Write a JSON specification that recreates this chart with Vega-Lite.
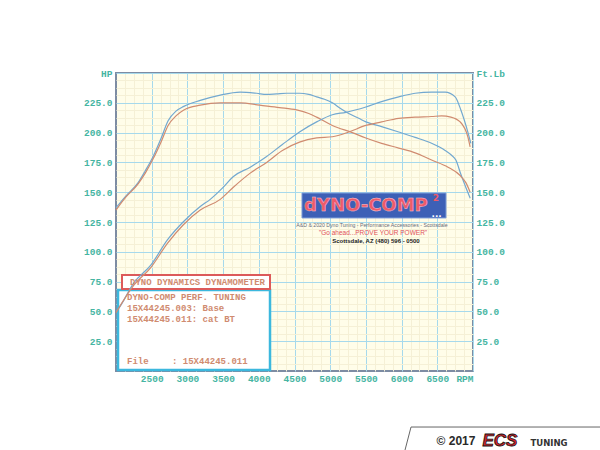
{
  "$schema": "https://vega.github.io/schema/vega-lite/v6.json",
  "width": 357,
  "height": 298,
  "autosize": {"type": "none"},
  "padding": {"left": 116, "top": 73, "right": 127, "bottom": 79},
  "background": "white",
  "config": {
    "view": {"fill": "#fffde9", "stroke": "#7d8ca3", "strokeWidth": 2},
    "axis": {"domain": false, "ticks": false, "title": null, "labelFont": "Liberation Mono", "labelFontSize": 9.5, "labelFontWeight": "bold", "labelColor": "#45b5a2"}
  },
  "datasets": {
    "curves": [
      {"series": "Torque cat BT", "rpm": 2000, "val": 137}, {"series": "Torque cat BT", "rpm": 2140, "val": 147}, {"series": "Torque cat BT", "rpm": 2310, "val": 158}, {"series": "Torque cat BT", "rpm": 2410, "val": 168}, {"series": "Torque cat BT", "rpm": 2520, "val": 180}, {"series": "Torque cat BT", "rpm": 2630, "val": 195}, {"series": "Torque cat BT", "rpm": 2730, "val": 210}, {"series": "Torque cat BT", "rpm": 2840, "val": 218}, {"series": "Torque cat BT", "rpm": 2950, "val": 222}, {"series": "Torque cat BT", "rpm": 3180, "val": 227}, {"series": "Torque cat BT", "rpm": 3460, "val": 231.5}, {"series": "Torque cat BT", "rpm": 3740, "val": 234}, {"series": "Torque cat BT", "rpm": 3970, "val": 233}, {"series": "Torque cat BT", "rpm": 4110, "val": 232}, {"series": "Torque cat BT", "rpm": 4250, "val": 232.5}, {"series": "Torque cat BT", "rpm": 4390, "val": 233}, {"series": "Torque cat BT", "rpm": 4570, "val": 233}, {"series": "Torque cat BT", "rpm": 4700, "val": 232}, {"series": "Torque cat BT", "rpm": 4810, "val": 230}, {"series": "Torque cat BT", "rpm": 4920, "val": 228}, {"series": "Torque cat BT", "rpm": 5030, "val": 225}, {"series": "Torque cat BT", "rpm": 5150, "val": 220}, {"series": "Torque cat BT", "rpm": 5260, "val": 216}, {"series": "Torque cat BT", "rpm": 5400, "val": 212}, {"series": "Torque cat BT", "rpm": 5500, "val": 209}, {"series": "Torque cat BT", "rpm": 5720, "val": 205}, {"series": "Torque cat BT", "rpm": 5960, "val": 200.5}, {"series": "Torque cat BT", "rpm": 6190, "val": 196}, {"series": "Torque cat BT", "rpm": 6420, "val": 191}, {"series": "Torque cat BT", "rpm": 6610, "val": 185}, {"series": "Torque cat BT", "rpm": 6700, "val": 181}, {"series": "Torque cat BT", "rpm": 6760, "val": 177}, {"series": "Torque cat BT", "rpm": 6830, "val": 165}, {"series": "Torque cat BT", "rpm": 6900, "val": 154}, {"series": "Torque cat BT", "rpm": 6960, "val": 145},
      {"series": "Torque Base", "rpm": 2000, "val": 135}, {"series": "Torque Base", "rpm": 2140, "val": 146}, {"series": "Torque Base", "rpm": 2310, "val": 157}, {"series": "Torque Base", "rpm": 2410, "val": 166}, {"series": "Torque Base", "rpm": 2520, "val": 178}, {"series": "Torque Base", "rpm": 2630, "val": 192}, {"series": "Torque Base", "rpm": 2730, "val": 206}, {"series": "Torque Base", "rpm": 2840, "val": 214}, {"series": "Torque Base", "rpm": 2950, "val": 219}, {"series": "Torque Base", "rpm": 3180, "val": 223}, {"series": "Torque Base", "rpm": 3460, "val": 225}, {"series": "Torque Base", "rpm": 3740, "val": 225}, {"series": "Torque Base", "rpm": 4010, "val": 223}, {"series": "Torque Base", "rpm": 4290, "val": 221}, {"series": "Torque Base", "rpm": 4530, "val": 219}, {"series": "Torque Base", "rpm": 4700, "val": 216}, {"series": "Torque Base", "rpm": 4810, "val": 213}, {"series": "Torque Base", "rpm": 5030, "val": 206}, {"series": "Torque Base", "rpm": 5310, "val": 200}, {"series": "Torque Base", "rpm": 5500, "val": 195.5}, {"series": "Torque Base", "rpm": 5720, "val": 191}, {"series": "Torque Base", "rpm": 5960, "val": 187}, {"series": "Torque Base", "rpm": 6190, "val": 183}, {"series": "Torque Base", "rpm": 6420, "val": 177}, {"series": "Torque Base", "rpm": 6650, "val": 171}, {"series": "Torque Base", "rpm": 6820, "val": 164}, {"series": "Torque Base", "rpm": 6900, "val": 158}, {"series": "Torque Base", "rpm": 6960, "val": 150},
      {"series": "HP cat BT", "rpm": 2000, "val": 50}, {"series": "HP cat BT", "rpm": 2030, "val": 52}, {"series": "HP cat BT", "rpm": 2250, "val": 74}, {"series": "HP cat BT", "rpm": 2490, "val": 89}, {"series": "HP cat BT", "rpm": 2720, "val": 110}, {"series": "HP cat BT", "rpm": 2940, "val": 125}, {"series": "HP cat BT", "rpm": 3180, "val": 138}, {"series": "HP cat BT", "rpm": 3320, "val": 144}, {"series": "HP cat BT", "rpm": 3500, "val": 154}, {"series": "HP cat BT", "rpm": 3640, "val": 163}, {"series": "HP cat BT", "rpm": 3880, "val": 171}, {"series": "HP cat BT", "rpm": 4110, "val": 180}, {"series": "HP cat BT", "rpm": 4330, "val": 190}, {"series": "HP cat BT", "rpm": 4570, "val": 200.5}, {"series": "HP cat BT", "rpm": 4810, "val": 209}, {"series": "HP cat BT", "rpm": 5030, "val": 215}, {"series": "HP cat BT", "rpm": 5220, "val": 217}, {"series": "HP cat BT", "rpm": 5500, "val": 221.5}, {"series": "HP cat BT", "rpm": 5720, "val": 226}, {"series": "HP cat BT", "rpm": 5960, "val": 230}, {"series": "HP cat BT", "rpm": 6190, "val": 233}, {"series": "HP cat BT", "rpm": 6420, "val": 234}, {"series": "HP cat BT", "rpm": 6610, "val": 234}, {"series": "HP cat BT", "rpm": 6750, "val": 230}, {"series": "HP cat BT", "rpm": 6830, "val": 219}, {"series": "HP cat BT", "rpm": 6930, "val": 200}, {"series": "HP cat BT", "rpm": 6970, "val": 191},
      {"series": "HP Base", "rpm": 2000, "val": 49}, {"series": "HP Base", "rpm": 2250, "val": 72}, {"series": "HP Base", "rpm": 2490, "val": 87}, {"series": "HP Base", "rpm": 2720, "val": 107}, {"series": "HP Base", "rpm": 2940, "val": 122.5}, {"series": "HP Base", "rpm": 3180, "val": 135}, {"series": "HP Base", "rpm": 3460, "val": 144}, {"series": "HP Base", "rpm": 3640, "val": 154}, {"series": "HP Base", "rpm": 3880, "val": 166}, {"series": "HP Base", "rpm": 4110, "val": 175}, {"series": "HP Base", "rpm": 4330, "val": 185}, {"series": "HP Base", "rpm": 4570, "val": 192}, {"series": "HP Base", "rpm": 4810, "val": 195.5}, {"series": "HP Base", "rpm": 5030, "val": 196.5}, {"series": "HP Base", "rpm": 5260, "val": 200.5}, {"series": "HP Base", "rpm": 5500, "val": 206}, {"series": "HP Base", "rpm": 5720, "val": 209}, {"series": "HP Base", "rpm": 5960, "val": 212}, {"series": "HP Base", "rpm": 6190, "val": 213}, {"series": "HP Base", "rpm": 6420, "val": 213.5}, {"series": "HP Base", "rpm": 6560, "val": 214}, {"series": "HP Base", "rpm": 6690, "val": 213}, {"series": "HP Base", "rpm": 6820, "val": 209}, {"series": "HP Base", "rpm": 6930, "val": 196}, {"series": "HP Base", "rpm": 6960, "val": 188}
    ],
    "boxes": [
      {"kind": "info", "rpm1": 2028, "rpm2": 4157, "v1": 0.8, "v2": 68},
      {"kind": "title", "rpm1": 2084, "rpm2": 4157, "v1": 68.8, "v2": 80.5},
      {"kind": "logo", "rpm1": 4605, "rpm2": 6622, "v1": 128.4, "v2": 149.3}
    ],
    "monotext": [
      {"kind": "red", "text": "DYNO DYNAMICS DYNAMOMETER", "rpm": 2196, "val": 74.7},
      {"kind": "red", "text": "DYNO-COMP PERF. TUNING", "rpm": 2154, "val": 62.1},
      {"kind": "red", "text": "15X44245.003: Base", "rpm": 2154, "val": 52.9},
      {"kind": "navy", "text": "15X44245.011: cat BT", "rpm": 2154, "val": 43.6},
      {"kind": "red", "text": "File", "rpm": 2154, "val": 8.4},
      {"kind": "navy", "text": ": 15X44245.011", "rpm": 2784, "val": 8.4}
    ],
    "logotext": [
      {"kind": "logo", "text": "dYNO-COMP", "rpm": 5500, "val": 138.5},
      {"kind": "sup", "text": "2", "rpm": 6480, "val": 145},
      {"kind": "dots", "text": "...", "rpm": 6490, "val": 132},
      {"kind": "small", "text": "A&D & 2020 Dyno Tuning - Performance Accessories - Scottsdale", "rpm": 5585, "val": 122.5},
      {"kind": "slogan", "text": "\"Go ahead...PROVE YOUR POWER\"", "rpm": 5600, "val": 115.8},
      {"kind": "addr", "text": "Scottsdale, AZ (480) 596 - 0500", "rpm": 5640, "val": 109},
      {"kind": "copy", "text": "© 2017", "rpm": 6762, "val": -58.7},
      {"kind": "ecs", "text": "ECS", "rpm": 7378, "val": -58.7},
      {"kind": "tuning", "text": "TUNING", "rpm": 8064, "val": -60}
    ],
    "frame": [
      {"rpm1": 6048, "v1": -66.3, "rpm2": 6132, "v2": -47},
      {"rpm1": 6132, "v1": -47, "rpm2": 13000, "v2": -47}
    ]
  },
  "resolve": {"axis": {"x": "independent", "y": "independent"}},
  "layer": [
    {
      "data": {"name": "boxes"},
      "transform": [{"filter": "datum.kind == 'info'"}],
      "mark": {"type": "rect", "fill": "white", "stroke": "#3cb8de", "strokeWidth": 2.5},
      "encoding": {
        "x": {"field": "rpm1", "type": "quantitative", "scale": {"domain": [2000, 7000], "nice": false, "zero": false},
              "axis": {"orient": "bottom", "grid": true, "gridColor": "#f5f0d6", "gridWidth": 1, "labels": false, "values": [2125,2250,2375,2625,2750,2875,3125,3250,3375,3625,3750,3875,4125,4250,4375,4625,4750,4875,5125,5250,5375,5625,5750,5875,6125,6250,6375,6625,6750,6875]}},
        "x2": {"field": "rpm2"},
        "y": {"field": "v1", "type": "quantitative", "scale": {"domain": [0, 250], "nice": false, "zero": false},
              "axis": {"orient": "left", "grid": true, "gridColor": "#f5f0d6", "gridWidth": 1, "labels": false, "values": [6.25,12.5,18.75,31.25,37.5,43.75,56.25,62.5,68.75,81.25,87.5,93.75,106.25,112.5,118.75,131.25,137.5,143.75,156.25,162.5,168.75,181.25,187.5,193.75,206.25,212.5,218.75,231.25,237.5,243.75]}},
        "y2": {"field": "v2"}
      }
    },
    {
      "data": {"name": "boxes"},
      "transform": [{"filter": "datum.kind == 'title'"}],
      "mark": {"type": "rect", "fill": "white", "stroke": "#dc5a5a", "strokeWidth": 2},
      "encoding": {
        "x": {"field": "rpm1", "type": "quantitative", "axis": null},
        "x2": {"field": "rpm2"},
        "y": {"field": "v1", "type": "quantitative", "axis": null},
        "y2": {"field": "v2"}
      }
    },
    {
      "data": {"name": "boxes"},
      "transform": [{"filter": "datum.kind == 'logo'"}],
      "mark": {"type": "rect", "fill": "#3d60b6", "stroke": "#7a9ad8", "strokeWidth": 1},
      "encoding": {
        "x": {"field": "rpm1", "type": "quantitative", "axis": null},
        "x2": {"field": "rpm2"},
        "y": {"field": "v1", "type": "quantitative", "axis": null},
        "y2": {"field": "v2"}
      }
    },
    {
      "data": {"name": "curves"},
      "mark": {"type": "line", "strokeWidth": 1.2, "interpolate": "monotone"},
      "encoding": {
        "x": {"field": "rpm", "type": "quantitative",
              "axis": {"orient": "bottom", "grid": true, "gridColor": "#a6d9ec", "gridWidth": 1, "values": [2500,3000,3500,4000,4500,5000,5500,6000,6500,7000],
                       "labelExpr": "datum.value == 7000 ? 'RPM' : datum.value", "labelPadding": 2,
                       "labelAlign": {"condition": {"test": "datum.value == 7000", "value": "right"}, "value": "center"}}},
        "y": {"field": "val", "type": "quantitative",
              "axis": {"orient": "left", "grid": true, "gridColor": "#a6d9ec", "gridWidth": 1, "values": [25,50,75,100,125,150,175,200,225,250],
                       "labelExpr": "datum.value == 250 ? 'HP' : format(datum.value, '.1f')", "labelPadding": 4}},
        "color": {"field": "series", "type": "nominal", "legend": null,
                  "scale": {"domain": ["HP Base", "Torque Base", "HP cat BT", "Torque cat BT"], "range": ["#d08b70", "#d08b70", "#72a8d0", "#72a8d0"]}}
      }
    },
    {
      "data": {"name": "monotext"},
      "mark": {"type": "text", "align": "left", "baseline": "middle", "font": "Liberation Mono", "fontSize": 9, "fontWeight": "bold"},
      "encoding": {
        "x": {"field": "rpm", "type": "quantitative", "axis": null},
        "y": {"field": "val", "type": "quantitative",
              "axis": {"orient": "right", "grid": false, "values": [25,50,75,100,125,150,175,200,225,250],
                       "labelExpr": "datum.value == 250 ? 'Ft.Lb' : format(datum.value, '.1f')", "labelPadding": 3, "labelAlign": "left"}},
        "text": {"field": "text"},
        "color": {"field": "kind", "type": "nominal", "legend": null, "scale": {"domain": ["red", "navy"], "range": ["#dd4a55", "#26346e"]}}
      }
    },
    {
      "data": {"name": "logotext"},
      "transform": [{"filter": "datum.kind == 'logo'"}],
      "mark": {"type": "text", "align": "center", "baseline": "middle", "font": "DejaVu Sans", "fontWeight": "bold", "fontSize": 18, "fill": "#ee5a6a", "stroke": "#ffc7cc", "strokeWidth": 0.4},
      "encoding": {"x": {"field": "rpm", "type": "quantitative", "axis": null}, "y": {"field": "val", "type": "quantitative", "axis": null}, "text": {"field": "text"}}
    },
    {
      "data": {"name": "logotext"},
      "transform": [{"filter": "datum.kind == 'sup'"}],
      "mark": {"type": "text", "align": "center", "baseline": "middle", "font": "DejaVu Sans", "fontWeight": "bold", "fontSize": 9, "fill": "#ee5a6a"},
      "encoding": {"x": {"field": "rpm", "type": "quantitative", "axis": null}, "y": {"field": "val", "type": "quantitative", "axis": null}, "text": {"field": "text"}}
    },
    {
      "data": {"name": "logotext"},
      "transform": [{"filter": "datum.kind == 'dots'"}],
      "mark": {"type": "text", "align": "center", "baseline": "middle", "font": "DejaVu Sans", "fontWeight": "bold", "fontSize": 9, "fill": "white"},
      "encoding": {"x": {"field": "rpm", "type": "quantitative", "axis": null}, "y": {"field": "val", "type": "quantitative", "axis": null}, "text": {"field": "text"}}
    },
    {
      "data": {"name": "logotext"},
      "transform": [{"filter": "datum.kind == 'small'"}],
      "mark": {"type": "text", "align": "center", "baseline": "middle", "font": "Liberation Sans", "fontSize": 5.2, "fill": "#6a6a7a"},
      "encoding": {"x": {"field": "rpm", "type": "quantitative", "axis": null}, "y": {"field": "val", "type": "quantitative", "axis": null}, "text": {"field": "text"}}
    },
    {
      "data": {"name": "logotext"},
      "transform": [{"filter": "datum.kind == 'slogan'"}],
      "mark": {"type": "text", "align": "center", "baseline": "middle", "font": "Liberation Sans", "fontSize": 6.5, "fill": "#e0505a"},
      "encoding": {"x": {"field": "rpm", "type": "quantitative", "axis": null}, "y": {"field": "val", "type": "quantitative", "axis": null}, "text": {"field": "text"}}
    },
    {
      "data": {"name": "logotext"},
      "transform": [{"filter": "datum.kind == 'addr'"}],
      "mark": {"type": "text", "align": "center", "baseline": "middle", "font": "Liberation Sans", "fontWeight": "bold", "fontSize": 6, "fill": "#222222"},
      "encoding": {"x": {"field": "rpm", "type": "quantitative", "axis": null}, "y": {"field": "val", "type": "quantitative", "axis": null}, "text": {"field": "text"}}
    },
    {
      "data": {"name": "logotext"},
      "transform": [{"filter": "datum.kind == 'copy'"}],
      "mark": {"type": "text", "align": "center", "baseline": "middle", "font": "Liberation Sans", "fontWeight": "bold", "fontSize": 12, "fill": "#2a2a2a"},
      "encoding": {"x": {"field": "rpm", "type": "quantitative", "axis": null}, "y": {"field": "val", "type": "quantitative", "axis": null}, "text": {"field": "text"}}
    },
    {
      "data": {"name": "logotext"},
      "transform": [{"filter": "datum.kind == 'ecs'"}],
      "mark": {"type": "text", "align": "center", "baseline": "middle", "font": "Liberation Sans", "fontWeight": "bold", "fontStyle": "italic", "fontSize": 17, "fill": "#d8262e", "stroke": "#111111", "strokeWidth": 0.8},
      "encoding": {"x": {"field": "rpm", "type": "quantitative", "axis": null}, "y": {"field": "val", "type": "quantitative", "axis": null}, "text": {"field": "text"}}
    },
    {
      "data": {"name": "logotext"},
      "transform": [{"filter": "datum.kind == 'tuning'"}],
      "mark": {"type": "text", "align": "center", "baseline": "middle", "font": "DejaVu Sans", "fontWeight": "bold", "fontSize": 8.5, "fill": "#333333"},
      "encoding": {"x": {"field": "rpm", "type": "quantitative", "axis": null}, "y": {"field": "val", "type": "quantitative", "axis": null}, "text": {"field": "text"}}
    },
    {
      "data": {"name": "frame"},
      "mark": {"type": "rule", "color": "#666666", "strokeWidth": 1, "clip": false},
      "encoding": {
        "x": {"field": "rpm1", "type": "quantitative", "axis": null},
        "y": {"field": "v1", "type": "quantitative", "axis": null},
        "x2": {"field": "rpm2"},
        "y2": {"field": "v2"}
      }
    }
  ]
}
